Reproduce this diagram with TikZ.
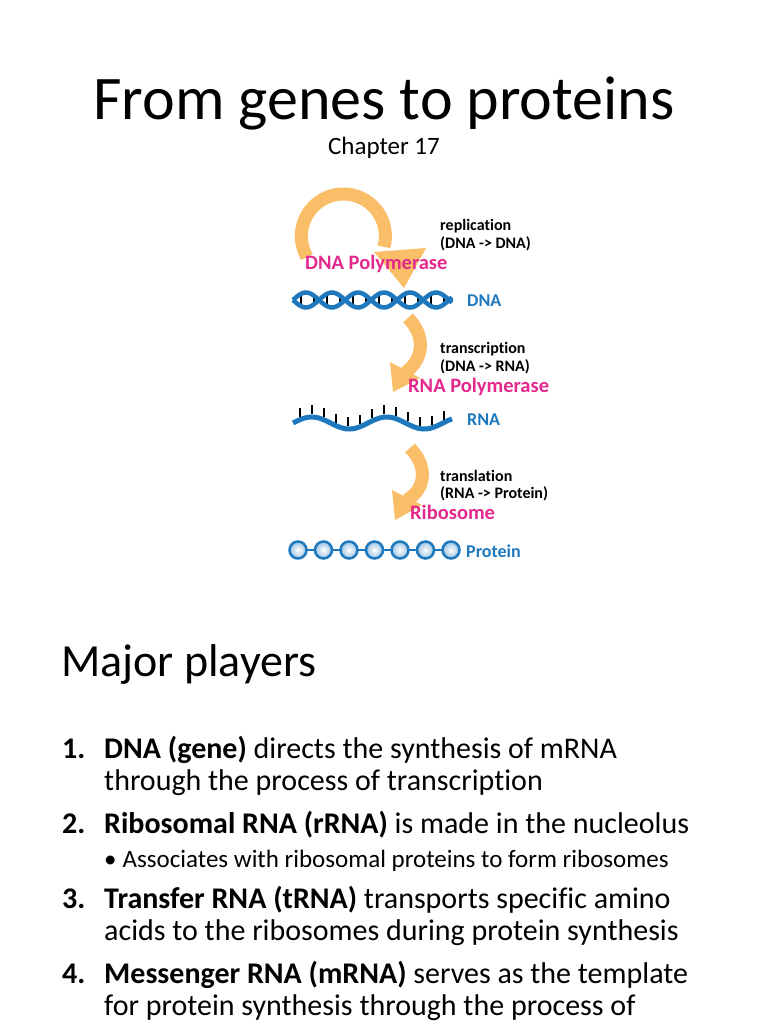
\documentclass[tikz,border=0pt]{standalone}
\usepackage{fontspec}
\setmainfont[Ligatures=NoCommon]{Carlito}
\begin{document}
\begin{tikzpicture}[x=1pt,y=-1pt,
  lbl/.style={anchor=base west,inner sep=0,font=\fontsize{16}{18}\selectfont\bfseries},
  pol/.style={anchor=base west,inner sep=0,text=mag,font=\fontsize{20.5}{22}\selectfont\bfseries},
  mol/.style={anchor=base west,inner sep=0,text=blu,font=\fontsize{18}{20}\selectfont\bfseries},
  body/.style={anchor=base west,inner sep=0,font=\fontsize{30}{33}\selectfont},
  num/.style={anchor=base west,inner sep=0,font=\fontsize{30}{33}\selectfont\bfseries},
  arr/.style={draw=org,line width=13pt},
  head/.style={fill=org,draw=none}]
\definecolor{org}{RGB}{250,190,105}
\definecolor{mag}{RGB}{228,40,140}
\definecolor{blu}{RGB}{30,120,190}
\useasboundingbox[fill=white] (0,0) rectangle (768,1024);
\node[inner sep=0,anchor=base,font=\fontsize{62}{66}\selectfont] (title) at (384,120) {From genes to proteins};
\node[inner sep=0,anchor=base,font=\fontsize{25}{28}\selectfont] (chap) at (384,155) {Chapter 17};
% replication arrow
\draw[arr] (307,257) arc[start angle=150,end angle=375,radius=42];
\fill[head] (374,252) -- (426,248) -- (404,288) -- cycle;
\node[lbl] (rep1) at (440,231) {replication};
\node[lbl] (rep2) at (440,248) {(DNA -> DNA)};
\node[pol] (dnap) at (305,269) {DNA Polymerase};
% DNA
\foreach \i in {0,...,11} {\draw[line width=2pt] ({301+\i*13},294) -- ({301+\i*13},306);}
\draw[blu,line width=4.5pt,domain=0:159,samples=80] plot ({293+\x},{300+7.5*sin(\x*6.92)});
\draw[blu,line width=4.5pt,domain=0:159,samples=80] plot ({293+\x},{300-7.5*sin(\x*6.92)});
\node[mol] (dna) at (467,306) {DNA};
% transcription
\draw[arr] (408,318) .. controls (425,335) and (425,358) .. (405,373);
\fill[head] (390,362) -- (420,378) -- (393,392) -- cycle;
\node[lbl] (tr1) at (440,353) {transcription};
\node[lbl] (tr2) at (440,371) {(DNA -> RNA)};
\node[pol] (rnap) at (408,392) {RNA Polymerase};
% RNA
\foreach \i in {0,...,12} {\pgfmathsetmacro\yy{423-6*sin((7+\i*12)*4.8)}\draw[line width=2pt] ({300+\i*12},{\yy-3}) -- ({300+\i*12},{\yy-12});}
\draw[blu,line width=5pt,domain=0:159,samples=80] plot ({293+\x},{423-6*sin(\x*4.8)});
\node[mol] (rna) at (467,425) {RNA};
% translation
\draw[arr] (410,448) .. controls (427,465) and (427,488) .. (407,500);
\fill[head] (392,490) -- (422,505) -- (395,520) -- cycle;
\node[lbl] (tl1) at (440,481) {translation};
\node[lbl] (tl2) at (440,498) {(RNA -> Protein)};
\node[pol] (ribo) at (410,519) {Ribosome};
% protein
\draw[blu,line width=2.5pt] (295,550) -- (450,550);
\foreach \i in {0,...,6} {\shade[inner color=white,outer color=blu!45!white] ({298+\i*25.5},550) circle (8.5); \draw[blu,line width=2.5pt] ({298+\i*25.5},550) circle (8.5);}
\node[mol] (prot) at (466,557) {Protein};
% Major players
\node[inner sep=0,anchor=base west,font=\fontsize{46}{50}\selectfont] (mp) at (61,676) {Major players};
\node[num] (n1) at (62,758) {1.};
\node[body] (l1a) at (104,758) {\textbf{DNA (gene)} directs the synthesis of mRNA};
\node[body] (l1b) at (104,790) {through the process of transcription};
\node[num] (n2) at (62,833) {2.};
\node[body] (l2a) at (104,833) {\textbf{Ribosomal RNA (rRNA)} is made in the nucleolus};
\node[inner sep=0,anchor=base west,font=\fontsize{25}{28}\selectfont] (sub) at (104,867) {\textbullet\hspace{6pt}Associates with ribosomal proteins to form ribosomes};
\node[num] (n3) at (62,908) {3.};
\node[body] (l3a) at (104,908) {\textbf{Transfer RNA (tRNA)} transports specific amino};
\node[body] (l3b) at (104,940) {acids to the ribosomes during protein synthesis};
\node[num] (n4) at (62,983) {4.};
\node[body] (l4a) at (104,983) {\textbf{Messenger RNA (mRNA)} serves as the template};
\node[body] (l4b) at (104,1015) {for protein synthesis through the process of};
\end{tikzpicture}
\end{document}
